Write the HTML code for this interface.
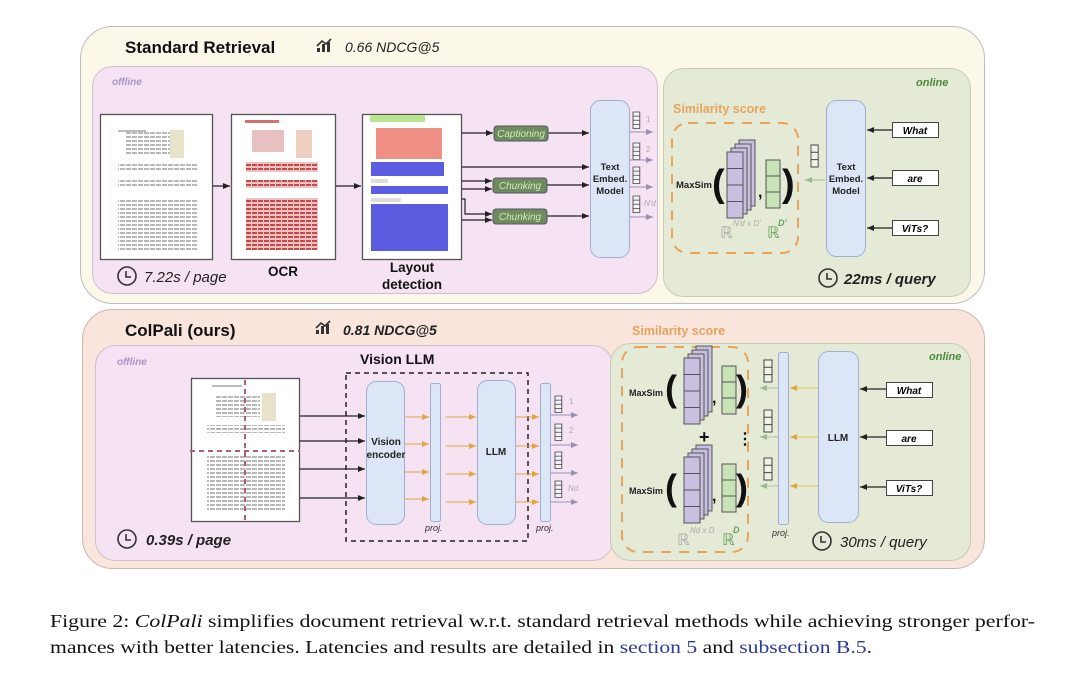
<!DOCTYPE html>
<html><head><meta charset="utf-8"><style>
html,body{margin:0;padding:0;background:#fff}
svg{display:block}
text{font-family:"Liberation Sans",sans-serif}
text.serif{font-family:"Liberation Serif",serif}
</style></head><body>
<svg width="1080" height="687" viewBox="0 0 1080 687" xmlns="http://www.w3.org/2000/svg">
<defs>
<marker id="ab" markerWidth="8" markerHeight="8" refX="7" refY="4" orient="auto" markerUnits="userSpaceOnUse"><path d="M0,1 L7,4 L0,7z" fill="#222"/></marker>
<marker id="ag" markerWidth="8" markerHeight="8" refX="7" refY="4" orient="auto" markerUnits="userSpaceOnUse"><path d="M0,1 L7,4 L0,7z" fill="#9a90b0"/></marker>
<marker id="ao" markerWidth="8" markerHeight="8" refX="7" refY="4" orient="auto" markerUnits="userSpaceOnUse"><path d="M0,1 L7,4 L0,7z" fill="#e0a640"/></marker>
<marker id="agr" markerWidth="8" markerHeight="8" refX="7" refY="4" orient="auto" markerUnits="userSpaceOnUse"><path d="M0,1 L7,4 L0,7z" fill="#9cbb8c"/></marker>
<pattern id="tx" width="6" height="4" patternUnits="userSpaceOnUse"><rect width="5" height="2" fill="#b8b8b8"/></pattern>
<pattern id="txr" width="6" height="4" patternUnits="userSpaceOnUse"><rect width="6" height="4" fill="#e8c4c4"/><rect width="5" height="2" fill="#c94848"/></pattern>
<g id="clock"><circle cx="0" cy="0" r="9" fill="none" stroke="#333" stroke-width="1.6"/><path d="M-1,-5 V1 H4" fill="none" stroke="#333" stroke-width="1.6"/></g>
<g id="bars"><rect x="0" y="8" width="3" height="4" fill="#333"/><rect x="5" y="4" width="3" height="8" fill="#333"/><rect x="10" y="2" width="3" height="10" fill="#333"/><path d="M0,6 L5,1 L9,4 L14,-1" stroke="#333" stroke-width="1.6" fill="none"/></g>
<g id="vec3"><rect x="0" y="0" width="8" height="22" fill="#eef3e6" stroke="#444" stroke-width="1"/><path d="M0,7.3 H8 M0,14.6 H8" stroke="#444"/></g>
<g id="vec4"><rect x="0" y="0" width="8" height="22" fill="#f3f0f7" stroke="#444" stroke-width="1"/><path d="M0,5.5 H8 M0,11 H8 M0,16.5 H8" stroke="#444"/></g>
<g id="stack"><g fill="#c9bfe0" stroke="#555" stroke-width="1">
<rect x="12" y="-12" width="16" height="66"/><rect x="8" y="-8" width="16" height="66"/><rect x="4" y="-4" width="16" height="66"/><rect x="0" y="0" width="16" height="66"/></g>
<path d="M0,16.5 H16 M0,33 H16 M0,49.5 H16" stroke="#555"/></g>
<g id="gvec"><rect x="0" y="0" width="14" height="48" fill="#c8e3b6" stroke="#555"/><path d="M0,16 H14 M0,32 H14" stroke="#555"/></g>
</defs>

<!-- TOP -->
<rect x="80.5" y="26.5" width="904" height="277" rx="32" fill="#fbf8e9" stroke="#bdbdbd"/>
<text x="125" y="53" font-size="17" font-weight="bold" fill="#111">Standard Retrieval</text>
<use href="#bars" x="317" y="40"/>
<text x="345" y="52" font-size="14" font-style="italic" fill="#222">0.66 NDCG@5</text>
<rect x="92.5" y="66.5" width="565" height="227" rx="20" fill="#f5e2f3" stroke="#cfc0cf"/>
<text x="112" y="85" font-size="10" font-style="italic" font-weight="bold" fill="#a795c8">offline</text>
<rect x="663.5" y="68.5" width="307" height="228" rx="20" fill="#e5ead6" stroke="#c6cbb8"/>
<text x="916" y="86" font-size="11" font-style="italic" font-weight="bold" fill="#4c8a3c">online</text>

<!-- docs -->
<rect x="100.5" y="114.5" width="112" height="145" fill="#fff" stroke="#555" stroke-width="1.3"/>
<rect x="118" y="130" width="28" height="2" fill="#bbb"/>
<rect x="125" y="132" width="50" height="22" fill="url(#tx)"/><rect x="170" y="130" width="14" height="28" fill="#e7e2c9"/>
<rect x="118" y="162" width="80" height="10" fill="url(#tx)"/>
<rect x="118" y="180" width="80" height="8" fill="url(#tx)"/>
<rect x="118" y="200" width="80" height="50" fill="url(#tx)"/>
<rect x="231.5" y="114.5" width="104" height="145" fill="#fff" stroke="#555" stroke-width="1.3"/>
<rect x="245" y="120" width="34" height="3" fill="#d47070"/>
<rect x="252" y="130" width="32" height="22" fill="#e9c0c0"/><rect x="296" y="130" width="16" height="28" fill="#efd0c0"/>
<rect x="246" y="162" width="72" height="10" fill="url(#txr)"/>
<rect x="246" y="180" width="72" height="8" fill="url(#txr)"/>
<rect x="246" y="198" width="72" height="52" fill="url(#txr)"/>
<rect x="362.5" y="114.5" width="99" height="145" fill="#fff" stroke="#555" stroke-width="1.3"/>
<rect x="370" y="115" width="55" height="7" fill="#b7e68e"/>
<rect x="376" y="128" width="66" height="31" fill="#f08f84"/>
<rect x="371" y="162" width="73" height="14" fill="#5a5de0"/>
<rect x="371" y="179" width="17" height="4" fill="#ddd"/>
<rect x="371" y="186" width="77" height="8" fill="#5a5de0"/>
<rect x="371" y="198" width="30" height="4" fill="#ddd"/>
<rect x="371" y="204" width="77" height="47" fill="#5a5de0"/>
<line x1="213" y1="186" x2="230" y2="186" stroke="#222" stroke-width="1.2" marker-end="url(#ab)"/>
<line x1="336" y1="186" x2="361" y2="186" stroke="#222" stroke-width="1.2" marker-end="url(#ab)"/>

<!-- branches -->
<g stroke="#222" stroke-width="1.2" fill="none">
<line x1="462" y1="133" x2="493" y2="133" marker-end="url(#ab)"/>
<line x1="548" y1="133" x2="589" y2="133" marker-end="url(#ab)"/>
<line x1="462" y1="167" x2="589" y2="167" marker-end="url(#ab)"/>
<line x1="462" y1="181" x2="492" y2="181" marker-end="url(#ab)"/>
<line x1="462" y1="189" x2="492" y2="189" marker-end="url(#ab)"/>
<line x1="547" y1="185" x2="589" y2="185" marker-end="url(#ab)"/>
<path d="M462,199 H465 V214 H492" marker-end="url(#ab)"/>
<line x1="462" y1="220" x2="492" y2="220" marker-end="url(#ab)"/>
<line x1="547" y1="216" x2="589" y2="216" marker-end="url(#ab)"/>
</g>
<rect x="494" y="126" width="54" height="15" rx="3" fill="#6f8a5e" stroke="#556"/>
<text x="521" y="137" font-size="10" font-style="italic" fill="#c9f0b4" text-anchor="middle">Captioning</text>
<rect x="493" y="178" width="54" height="15" rx="3" fill="#6f8a5e" stroke="#556"/>
<text x="520" y="189" font-size="10" font-style="italic" fill="#c9f0b4" text-anchor="middle">Chunking</text>
<rect x="493" y="209" width="54" height="15" rx="3" fill="#6f8a5e" stroke="#556"/>
<text x="520" y="220" font-size="10" font-style="italic" fill="#c9f0b4" text-anchor="middle">Chunking</text>

<rect x="590.5" y="100.5" width="39" height="157" rx="10" fill="#dde6f7" stroke="#9fb0cf"/>
<text x="610" y="170" font-size="9.5" font-weight="bold" fill="#222" text-anchor="middle">Text</text>
<text x="610" y="182" font-size="9.5" font-weight="bold" fill="#222" text-anchor="middle">Embed.</text>
<text x="610" y="194" font-size="9.5" font-weight="bold" fill="#222" text-anchor="middle">Model</text>
<g transform="translate(633,112) scale(0.85,0.75)"><use href="#vec4"/></g>
<g transform="translate(633,143) scale(0.85,0.75)"><use href="#vec4"/></g>
<g transform="translate(633,167) scale(0.85,0.75)"><use href="#vec4"/></g>
<g transform="translate(633,196) scale(0.85,0.75)"><use href="#vec4"/></g>
<g stroke="#9a90b0" stroke-width="1" fill="none">
<line x1="630" y1="132" x2="653" y2="132" marker-end="url(#ag)"/>
<line x1="630" y1="160" x2="653" y2="160" marker-end="url(#ag)"/>
<line x1="630" y1="187" x2="653" y2="187" marker-end="url(#ag)"/>
<line x1="630" y1="217" x2="653" y2="217" marker-end="url(#ag)"/>
</g>
<text x="646" y="122" font-size="8" fill="#aaa">1</text>
<text x="646" y="152" font-size="8" fill="#aaa">2</text>
<text x="644" y="206" font-size="8" font-style="italic" fill="#aaa">N'd</text>

<!-- online top -->
<text x="673" y="113" font-size="12.5" font-weight="bold" fill="#e7a35c">Similarity score</text>
<rect x="672" y="123" width="126" height="130" rx="16" fill="none" stroke="#e7a35c" stroke-width="2" stroke-dasharray="10,8"/>
<text x="676" y="188" font-size="9.5" font-weight="bold" fill="#222">MaxSim</text>
<text x="712" y="196" font-size="38" font-weight="bold" fill="#111">(</text>
<use href="#stack" x="727" y="152"/>
<text x="758" y="197" font-size="16" font-weight="bold" fill="#111">,</text>
<use href="#gvec" x="766" y="160"/>
<text x="782" y="196" font-size="38" font-weight="bold" fill="#111">)</text>
<text x="720" y="238" font-size="16" fill="#aaa">ℝ</text><text x="733" y="226" font-size="8" font-style="italic" fill="#aaa">N'd x D'</text>
<text x="767" y="238" font-size="16" fill="#6aa05a">ℝ</text><text x="778" y="226" font-size="9" font-style="italic" font-weight="bold" fill="#6aa05a">D'</text>
<g transform="translate(811,145) scale(0.9,1)"><use href="#vec3"/></g>
<line x1="825" y1="180" x2="805" y2="180" stroke="#a7c79a" stroke-width="1.2" marker-end="url(#agr)"/>
<rect x="826.5" y="100.5" width="39" height="156" rx="10" fill="#dde6f7" stroke="#9fb0cf"/>
<text x="846" y="170" font-size="9.5" font-weight="bold" fill="#222" text-anchor="middle">Text</text>
<text x="846" y="182" font-size="9.5" font-weight="bold" fill="#222" text-anchor="middle">Embed.</text>
<text x="846" y="194" font-size="9.5" font-weight="bold" fill="#222" text-anchor="middle">Model</text>
<g stroke="#222" stroke-width="1.2">
<line x1="892" y1="130" x2="867" y2="130" marker-end="url(#ab)"/>
<line x1="892" y1="178" x2="867" y2="178" marker-end="url(#ab)"/>
<line x1="892" y1="228" x2="867" y2="228" marker-end="url(#ab)"/>
</g>
<rect x="892.5" y="122.5" width="46" height="15" fill="#fff" stroke="#444"/><text x="915" y="134" font-size="10" font-weight="bold" font-style="italic" text-anchor="middle">What</text>
<rect x="892.5" y="170.5" width="46" height="15" fill="#fff" stroke="#444"/><text x="915" y="182" font-size="10" font-weight="bold" font-style="italic" text-anchor="middle">are</text>
<rect x="892.5" y="220.5" width="46" height="15" fill="#fff" stroke="#444"/><text x="915" y="232" font-size="10" font-weight="bold" font-style="italic" text-anchor="middle">ViTs?</text>
<use href="#clock" x="828" y="278"/>
<text x="844" y="284" font-size="15" font-weight="bold" font-style="italic" fill="#222">22ms / query</text>
<use href="#clock" x="127" y="276"/>
<text x="144" y="282" font-size="15" font-style="italic" fill="#222">7.22s / page</text>
<text x="283" y="276" font-size="13.5" font-weight="bold" fill="#111" text-anchor="middle">OCR</text>
<text x="412" y="272" font-size="13.5" font-weight="bold" fill="#111" text-anchor="middle">Layout</text>
<text x="412" y="289" font-size="13.5" font-weight="bold" fill="#111" text-anchor="middle">detection</text>

<!-- BOTTOM -->
<rect x="82.5" y="309.5" width="902" height="259" rx="30" fill="#f9e5dc" stroke="#c9b8b0"/>
<text x="125" y="336" font-size="17" font-weight="bold" fill="#111">ColPali (ours)</text>
<use href="#bars" x="316" y="322"/>
<text x="343" y="335" font-size="14" font-weight="bold" font-style="italic" fill="#222">0.81 NDCG@5</text>
<rect x="95.5" y="345.5" width="517" height="215" rx="20" fill="#f5e2f3" stroke="#cfc0cf"/>
<text x="117" y="365" font-size="10" font-style="italic" font-weight="bold" fill="#a795c8">offline</text>
<rect x="610.5" y="343.5" width="360" height="217" rx="20" fill="#e5ead6" stroke="#c6cbb8"/>
<text x="929" y="360" font-size="11" font-style="italic" font-weight="bold" fill="#4c8a3c">online</text>
<text x="632" y="335" font-size="12.5" font-weight="bold" fill="#e7a35c">Similarity score</text>
<text x="360" y="364" font-size="14" font-weight="bold" fill="#111">Vision LLM</text>

<rect x="191.5" y="378.5" width="108" height="143" fill="#fff" stroke="#555" stroke-width="1.3"/>
<rect x="212" y="385" width="30" height="2" fill="#bbb"/>
<rect x="215" y="395" width="45" height="22" fill="url(#tx)"/><rect x="262" y="393" width="14" height="28" fill="#e7e2c9"/>
<rect x="207" y="425" width="78" height="8" fill="url(#tx)"/>
<rect x="207" y="455" width="78" height="55" fill="url(#tx)"/>
<line x1="245" y1="380" x2="245" y2="520" stroke="#b06070" stroke-width="2" stroke-dasharray="5,4"/>
<line x1="190" y1="451" x2="300" y2="451" stroke="#b06070" stroke-width="2" stroke-dasharray="5,4"/>

<rect x="346" y="373" width="182" height="168" fill="none" stroke="#222" stroke-width="1.5" stroke-dasharray="5,4"/>
<g stroke="#222" stroke-width="1.2">
<line x1="300" y1="416" x2="365" y2="416" marker-end="url(#ab)"/>
<line x1="300" y1="441" x2="365" y2="441" marker-end="url(#ab)"/>
<line x1="300" y1="469" x2="365" y2="469" marker-end="url(#ab)"/>
<line x1="300" y1="498" x2="365" y2="498" marker-end="url(#ab)"/>
</g>
<rect x="366.5" y="381.5" width="38" height="143" rx="10" fill="#dde6f7" stroke="#9fb0cf"/>
<text x="386" y="445" font-size="10" font-weight="bold" fill="#222" text-anchor="middle">Vision</text>
<text x="386" y="458" font-size="10" font-weight="bold" fill="#222" text-anchor="middle">encoder</text>
<rect x="430.5" y="383.5" width="10" height="138" rx="2" fill="#dde6f7" stroke="#9fb0cf"/>
<rect x="477.5" y="380.5" width="38" height="144" rx="10" fill="#dde6f7" stroke="#9fb0cf"/>
<text x="496" y="455" font-size="10" font-weight="bold" fill="#222" text-anchor="middle">LLM</text>
<rect x="540.5" y="383.5" width="10" height="138" rx="2" fill="#dde6f7" stroke="#9fb0cf"/>
<text x="425" y="531" font-size="9" font-style="italic" fill="#333">proj.</text>
<text x="536" y="531" font-size="9" font-style="italic" fill="#333">proj.</text>
<g stroke="#e0a640" stroke-width="1.1">
<line x1="405" y1="417" x2="429" y2="417" marker-end="url(#ao)"/>
<line x1="405" y1="444" x2="429" y2="444" marker-end="url(#ao)"/>
<line x1="405" y1="472" x2="429" y2="472" marker-end="url(#ao)"/>
<line x1="405" y1="499" x2="429" y2="499" marker-end="url(#ao)"/>
<line x1="446" y1="417" x2="476" y2="417" marker-end="url(#ao)"/>
<line x1="446" y1="446" x2="476" y2="446" marker-end="url(#ao)"/>
<line x1="446" y1="474" x2="476" y2="474" marker-end="url(#ao)"/>
<line x1="446" y1="502" x2="476" y2="502" marker-end="url(#ao)"/>
<line x1="516" y1="417" x2="539" y2="417" marker-end="url(#ao)"/>
<line x1="516" y1="446" x2="539" y2="446" marker-end="url(#ao)"/>
<line x1="516" y1="474" x2="539" y2="474" marker-end="url(#ao)"/>
<line x1="516" y1="502" x2="539" y2="502" marker-end="url(#ao)"/>
</g>
<g transform="translate(555,396) scale(0.85,0.75)"><use href="#vec4"/></g>
<g transform="translate(555,424) scale(0.85,0.75)"><use href="#vec4"/></g>
<g transform="translate(555,452) scale(0.85,0.75)"><use href="#vec4"/></g>
<g transform="translate(555,481) scale(0.85,0.75)"><use href="#vec4"/></g>
<g stroke="#9a90b0" stroke-width="1">
<line x1="551" y1="415" x2="578" y2="415" marker-end="url(#ag)"/>
<line x1="551" y1="445" x2="578" y2="445" marker-end="url(#ag)"/>
<line x1="551" y1="473" x2="578" y2="473" marker-end="url(#ag)"/>
<line x1="551" y1="502" x2="578" y2="502" marker-end="url(#ag)"/>
</g>
<text x="569" y="404" font-size="8" fill="#aaa">1</text>
<text x="569" y="433" font-size="8" fill="#aaa">2</text>
<text x="568" y="491" font-size="8" font-style="italic" fill="#aaa">Nd</text>
<use href="#clock" x="127" y="539"/>
<text x="146" y="545" font-size="15" font-weight="bold" font-style="italic" fill="#222">0.39s / page</text>

<rect x="622" y="347" width="126" height="205" rx="16" fill="none" stroke="#e7a35c" stroke-width="2" stroke-dasharray="10,8"/>
<text x="629" y="396" font-size="9" font-weight="bold" fill="#222">MaxSim</text>
<text x="665" y="401" font-size="36" font-weight="bold" fill="#111">(</text>
<use href="#stack" x="684" y="358"/>
<text x="712" y="403" font-size="16" font-weight="bold" fill="#111">,</text>
<use href="#gvec" x="722" y="366"/>
<text x="736" y="401" font-size="36" font-weight="bold" fill="#111">)</text>
<text x="699" y="443" font-size="18" font-weight="bold" fill="#111">+</text>
<text x="737" y="444" font-size="16" font-weight="bold" fill="#111">⋮</text>
<text x="629" y="494" font-size="9" font-weight="bold" fill="#222">MaxSim</text>
<text x="665" y="500" font-size="36" font-weight="bold" fill="#111">(</text>
<use href="#stack" x="684" y="457"/>
<text x="712" y="501" font-size="16" font-weight="bold" fill="#111">,</text>
<use href="#gvec" x="722" y="464"/>
<text x="736" y="500" font-size="36" font-weight="bold" fill="#111">)</text>
<text x="677" y="545" font-size="16" fill="#aaa">ℝ</text><text x="690" y="533" font-size="8" font-style="italic" fill="#aaa">Nd x D</text>
<text x="722" y="545" font-size="16" fill="#6aa05a">ℝ</text><text x="733" y="533" font-size="9" font-style="italic" font-weight="bold" fill="#6aa05a">D</text>
<g transform="translate(764,360)"><use href="#vec3"/></g>
<g transform="translate(764,410)"><use href="#vec3"/></g>
<g transform="translate(764,458)"><use href="#vec3"/></g>
<rect x="778.5" y="352.5" width="10" height="172" rx="2" fill="#dde6f7" stroke="#9fb0cf"/>
<text x="772" y="536" font-size="9" font-style="italic" fill="#333">proj.</text>
<g stroke="#a7c79a" stroke-width="1.1">
<line x1="778" y1="388" x2="760" y2="388" marker-end="url(#agr)"/>
<line x1="778" y1="437" x2="760" y2="437" marker-end="url(#agr)"/>
<line x1="778" y1="486" x2="760" y2="486" marker-end="url(#agr)"/>
</g>
<g stroke="#e0c060" stroke-width="1.1">
<line x1="818" y1="388" x2="790" y2="388" marker-end="url(#ao)"/>
<line x1="818" y1="437" x2="790" y2="437" marker-end="url(#ao)"/>
<line x1="818" y1="486" x2="790" y2="486" marker-end="url(#ao)"/>
</g>
<rect x="818.5" y="351.5" width="40" height="171" rx="10" fill="#dde6f7" stroke="#9fb0cf"/>
<text x="838" y="441" font-size="10" font-weight="bold" fill="#222" text-anchor="middle">LLM</text>
<g stroke="#222" stroke-width="1.2">
<line x1="886" y1="389" x2="860" y2="389" marker-end="url(#ab)"/>
<line x1="886" y1="437" x2="860" y2="437" marker-end="url(#ab)"/>
<line x1="886" y1="487" x2="860" y2="487" marker-end="url(#ab)"/>
</g>
<rect x="886.5" y="382.5" width="46" height="15" fill="#fff" stroke="#444"/><text x="909" y="394" font-size="10" font-weight="bold" font-style="italic" text-anchor="middle">What</text>
<rect x="886.5" y="430.5" width="46" height="15" fill="#fff" stroke="#444"/><text x="909" y="442" font-size="10" font-weight="bold" font-style="italic" text-anchor="middle">are</text>
<rect x="886.5" y="480.5" width="46" height="15" fill="#fff" stroke="#444"/><text x="909" y="492" font-size="10" font-weight="bold" font-style="italic" text-anchor="middle">ViTs?</text>
<use href="#clock" x="822" y="541"/>
<text x="840" y="547" font-size="15" font-style="italic" fill="#222">30ms / query</text>

<!-- caption -->
<text class="serif" x="50" y="627" font-size="17.5" fill="#111" textLength="985" lengthAdjust="spacingAndGlyphs">Figure 2: <tspan font-style="italic">ColPali</tspan> simplifies document retrieval w.r.t. standard retrieval methods while achieving stronger perfor-</text>
<text class="serif" x="50" y="653" font-size="17.5" fill="#111" textLength="822" lengthAdjust="spacingAndGlyphs">mances with better latencies. Latencies and results are detailed in <tspan fill="#2a3a9a">section 5</tspan> and <tspan fill="#2a3a9a">subsection B.5</tspan>.</text>
</svg>
</body></html>
